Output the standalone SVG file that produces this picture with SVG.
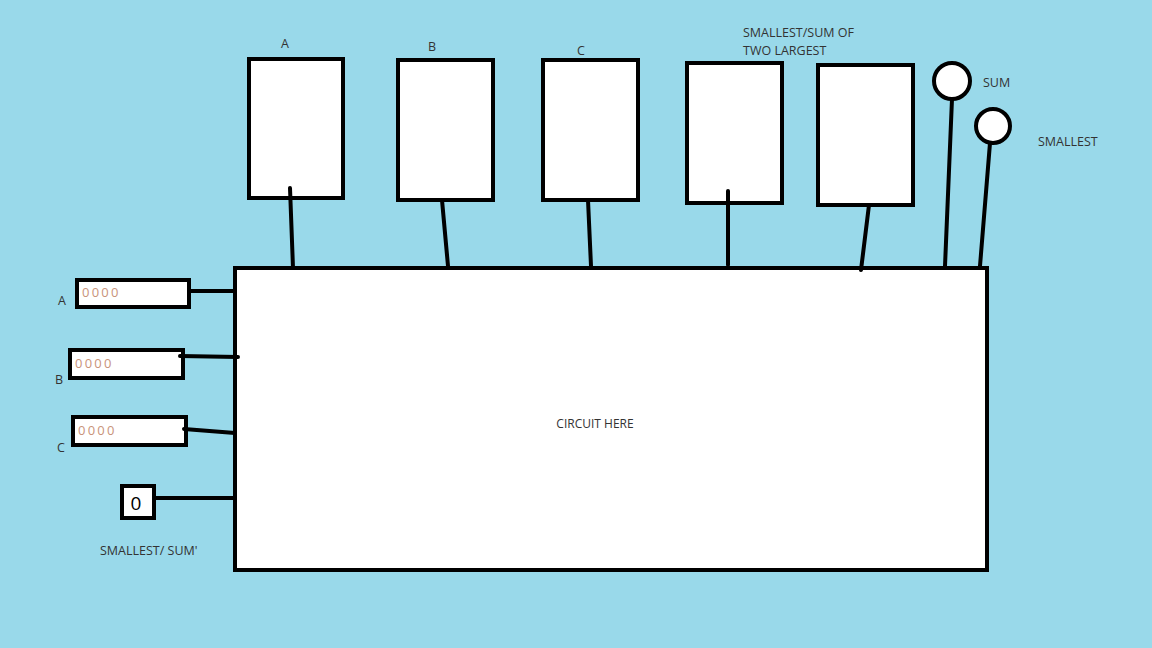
<svg xmlns="http://www.w3.org/2000/svg" width="1152" height="648" viewBox="0 0 1152 648">
<style>
.box{fill:#fff;stroke:#000;stroke-width:4}
.ln{stroke:#000;stroke-width:4;fill:none;stroke-linecap:round}
.t{font-family:"Open Sans","Noto Sans",sans-serif;font-size:12.5px;fill:#333}
.v{font-family:"Open Sans","Noto Sans",sans-serif;font-size:13px;fill:#C9937A;letter-spacing:2.2px}
</style>
<rect width="1152" height="648" fill="#99D9EA"/>
<g id="circuit"><rect class="box" x="235" y="268" width="752" height="302"/><text class="t" x="595" y="428" text-anchor="middle" style="font-size:12px">CIRCUIT HERE</text></g>
<g id="outA"><rect class="box" x="249" y="59" width="94" height="139"/><text class="t" x="285" y="48" text-anchor="middle">A</text></g>
<g id="outB"><rect class="box" x="398" y="60" width="95" height="140"/><text class="t" x="432" y="51" text-anchor="middle">B</text></g>
<g id="outC"><rect class="box" x="543" y="60" width="95" height="140"/><text class="t" x="581" y="55" text-anchor="middle">C</text></g>
<g id="outD"><rect class="box" x="687" y="63" width="95" height="140"/><text class="t" x="743" y="37">SMALLEST/SUM OF</text><text class="t" x="743" y="55">TWO LARGEST</text></g>
<g id="outE"><rect class="box" x="818" y="65" width="95" height="140"/></g>
<g id="ledSum"><circle class="box" cx="952" cy="81" r="18"/><text class="t" x="983" y="87">SUM</text></g>
<g id="ledSmall"><circle class="box" cx="993" cy="126" r="17"/><text class="t" x="1038" y="146">SMALLEST</text></g>
<g id="inA"><rect class="box" x="77" y="280" width="112" height="27"/><text class="v" x="82" y="297">0000</text><text class="t" x="58" y="305">A</text></g>
<g id="inB"><rect class="box" x="70" y="350" width="113" height="28"/><text class="v" x="75" y="368">0000</text><text class="t" x="55" y="384">B</text></g>
<g id="inC"><rect class="box" x="73" y="417" width="113" height="28"/><text class="v" x="78" y="435">0000</text><text class="t" x="57" y="452">C</text></g>
<g id="inSel"><rect class="box" x="122" y="486" width="32" height="32"/><text x="136" y="510" text-anchor="middle" font-family="'Open Sans','Noto Sans',sans-serif" font-size="19" fill="#000">0</text><text class="t" x="100" y="555">SMALLEST/ SUM'</text></g>
<g id="connectors">
<path class="ln" d="M290 188L293 268"/>
<path class="ln" d="M442 200L448 266"/>
<path class="ln" d="M588 200L591 266"/>
<path class="ln" d="M728 191L728 265"/>
<path class="ln" d="M869 205L861 270"/>
<path class="ln" d="M952 99L945 266"/>
<path class="ln" d="M990 143L980 266"/>
<path class="ln" d="M189 291L235 291"/>
<path class="ln" d="M180 356L238 357"/>
<path class="ln" d="M184 429L235 433"/>
<path class="ln" d="M154 498L235 498"/>
</g>
</svg>
